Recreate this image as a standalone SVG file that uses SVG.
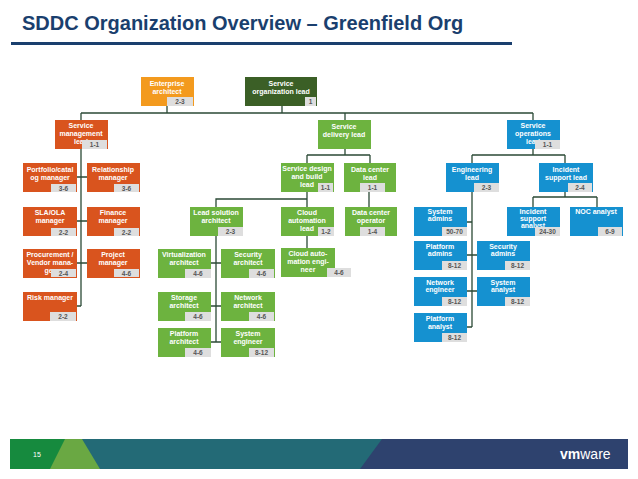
<svg xmlns="http://www.w3.org/2000/svg" width="638" height="479" viewBox="0 0 638 479">
<style>
text{font-family:"Liberation Sans",Arial,sans-serif}
.t{fill:#fff;font-size:7px;font-weight:bold;text-anchor:middle}
.b{fill:#dedede}
.bt{fill:#555;font-size:6.5px;font-weight:bold;text-anchor:middle}
.o{fill:#d9541e}.g{fill:#6db33f}.u{fill:#1591d0}
.c{stroke:#2b4a36;stroke-width:1.3;fill:none}
</style>
<rect width="638" height="479" fill="#fff"/>
<text x="22" y="30" font-size="20" font-weight="bold" fill="#1a3f6e">SDDC Organization Overview  – Greenfield Org</text>
<rect x="11" y="42" width="501" height="3" fill="#1a3f6e"/>
<g id="footer">
<rect x="10" y="439" width="618" height="30" fill="#236a76"/>
<polygon points="10,439 80,439 50,469 10,469" fill="#168a3e"/>
<polygon points="65,439 82,439 100,469 50,469" fill="#6aa843"/>
<polygon points="382,439 628,439 628,469 360,469" fill="#2e426e"/>
<text x="33" y="457" font-size="7" fill="#fff">15</text>
<text x="560" y="459" font-size="14" fill="#fff"><tspan font-weight="bold">vm</tspan>ware</text>
</g>
<g id="connectors" class="c">
<path d="M81,113H533M167,106V113M282,106V113M81,113V120M345,113V120M533,113V120"/>
<path d="M81,149V306M77,177H87M77,221H87M77,263H87M77,306H81"/>
<path d="M345,149V155M307,155H370M307,155V163M370,155V163M307,192V207M369,192V207M307,236V248M307,199H216V207"/>
<path d="M216,236V342M211,263H221M211,306H221M211,342H221"/>
<path d="M533,149V155M472,155H565M472,155V163M565,155V163M565,192V197M533,197H597M533,197V207M597,197V207"/>
<path d="M472,192V327M467,222H472M467,255H477M467,291H477M467,327H472"/>
</g>
<g id="enterprise"><rect x="141" y="77" width="53" height="29" fill="#f39a1e"/><text class="t" x="167" y="86">Enterprise</text><text class="t" x="167" y="94">architect</text><rect class="b" x="167" y="97" width="26" height="9"/><text class="bt" x="180" y="104">2-3</text></g>
<g id="orglead"><rect x="245" y="77" width="72" height="29" fill="#3b5f26"/><text class="t" x="281" y="86">Service</text><text class="t" x="281" y="94">organization lead</text><rect class="b" x="305" y="97" width="11" height="9"/><text class="bt" x="310.5" y="104">1</text></g>
<g id="smlead"><rect class="o" x="55" y="120" width="53" height="29"/><text class="t" x="81" y="128">Service</text><text class="t" x="81" y="136">management</text><text class="t" x="81" y="144">lead</text><rect class="b" x="82" y="140" width="25" height="9"/><text class="bt" x="94.5" y="147">1-1</text></g>
<g id="portfolio"><rect class="o" x="23" y="163" width="54" height="29"/><text class="t" x="50" y="172">Portfolio/catal</text><text class="t" x="50" y="180">og manager</text><rect class="b" x="51" y="184" width="25" height="8"/><text class="bt" x="63.5" y="190.5">3-6</text></g>
<g id="relationship"><rect class="o" x="87" y="163" width="53" height="29"/><text class="t" x="113" y="172">Relationship</text><text class="t" x="113" y="180">manager</text><rect class="b" x="114" y="184" width="25" height="8"/><text class="bt" x="126.5" y="190.5">3-6</text></g>
<g id="sla"><rect class="o" x="23" y="207" width="54" height="29"/><text class="t" x="50" y="215">SLA/OLA</text><text class="t" x="50" y="223">manager</text><rect class="b" x="51" y="228" width="25" height="8"/><text class="bt" x="63.5" y="234.5">2-2</text></g>
<g id="finance"><rect class="o" x="87" y="207" width="53" height="29"/><text class="t" x="113" y="215">Finance</text><text class="t" x="113" y="223">manager</text><rect class="b" x="114" y="228" width="25" height="8"/><text class="bt" x="126.5" y="234.5">2-2</text></g>
<g id="procurement"><rect class="o" x="23" y="249" width="54" height="29"/><text class="t" x="50" y="257">Procurement /</text><text class="t" x="50" y="265">Vendor mana-</text><text class="t" x="50" y="273">ger</text><rect class="b" x="51" y="269" width="25" height="8"/><text class="bt" x="63.5" y="275.5">2-4</text></g>
<g id="project"><rect class="o" x="87" y="249" width="53" height="29"/><text class="t" x="113" y="257">Project</text><text class="t" x="113" y="265">manager</text><rect class="b" x="114" y="269" width="25" height="8"/><text class="bt" x="126.5" y="275.5">4-6</text></g>
<g id="risk"><rect class="o" x="23" y="292" width="54" height="29"/><text class="t" x="50" y="300">Risk manager</text><rect class="b" x="50" y="312" width="26" height="9"/><text class="bt" x="63" y="319">2-2</text></g>
<g id="delivery"><rect class="g" x="318" y="120" width="53" height="29"/><text class="t" x="344" y="129">Service</text><text class="t" x="344" y="137">delivery lead</text></g>
<g id="design"><rect class="g" x="281" y="163" width="53" height="29"/><text class="t" x="307" y="171">Service design</text><text class="t" x="307" y="179">and build</text><text class="t" x="307" y="187">lead</text><rect class="b" x="318" y="183" width="15" height="9"/><text class="bt" x="325.5" y="190">1-1</text></g>
<g id="dclead"><rect class="g" x="344" y="163" width="52" height="29"/><text class="t" x="370" y="172">Data center</text><text class="t" x="370" y="180">lead</text><rect class="b" x="360" y="183" width="25" height="9"/><text class="bt" x="372.5" y="190">1-1</text></g>
<g id="calead"><rect class="g" x="281" y="207" width="53" height="29"/><text class="t" x="307" y="215">Cloud</text><text class="t" x="307" y="223">automation</text><text class="t" x="307" y="231">lead</text><rect class="b" x="318" y="227" width="16" height="9"/><text class="bt" x="326" y="234">1-2</text></g>
<g id="dcop"><rect class="g" x="345" y="207" width="52" height="29"/><text class="t" x="371" y="215">Data center</text><text class="t" x="371" y="223">operator</text><rect class="b" x="360" y="227" width="25" height="9"/><text class="bt" x="372.5" y="234">1-4</text></g>
<g id="caeng"><rect class="g" x="281" y="248" width="54" height="29"/><text class="t" x="308" y="256">Cloud auto-</text><text class="t" x="308" y="264">mation engi-</text><text class="t" x="308" y="272">neer</text><rect class="b" x="327" y="268" width="24" height="9"/><text class="bt" x="339" y="275">4-6</text></g>
<g id="lsa"><rect class="g" x="190" y="207" width="53" height="29"/><text class="t" x="216" y="215">Lead solution</text><text class="t" x="216" y="223">architect</text><rect class="b" x="218" y="227" width="25" height="9"/><text class="bt" x="230.5" y="234">2-3</text></g>
<g id="virt"><rect class="g" x="158" y="249" width="53" height="29"/><text class="t" x="184" y="257">Virtualization</text><text class="t" x="184" y="265">architect</text><rect class="b" x="185" y="269" width="26" height="9"/><text class="bt" x="198" y="276">4-6</text></g>
<g id="secarch"><rect class="g" x="221" y="249" width="54" height="29"/><text class="t" x="248" y="257">Security</text><text class="t" x="248" y="265">architect</text><rect class="b" x="249" y="269" width="25" height="9"/><text class="bt" x="261.5" y="276">4-6</text></g>
<g id="storage"><rect class="g" x="158" y="292" width="53" height="29"/><text class="t" x="184" y="300">Storage</text><text class="t" x="184" y="308">architect</text><rect class="b" x="185" y="312" width="26" height="9"/><text class="bt" x="198" y="319">4-6</text></g>
<g id="netarch"><rect class="g" x="221" y="292" width="54" height="29"/><text class="t" x="248" y="300">Network</text><text class="t" x="248" y="308">architect</text><rect class="b" x="249" y="312" width="25" height="9"/><text class="bt" x="261.5" y="319">4-6</text></g>
<g id="platarch"><rect class="g" x="158" y="328" width="53" height="29"/><text class="t" x="184" y="336">Platform</text><text class="t" x="184" y="344">architect</text><rect class="b" x="185" y="348" width="26" height="9"/><text class="bt" x="198" y="355">4-6</text></g>
<g id="syseng"><rect class="g" x="221" y="328" width="54" height="29"/><text class="t" x="248" y="336">System</text><text class="t" x="248" y="344">engineer</text><rect class="b" x="249" y="348" width="25" height="9"/><text class="bt" x="261.5" y="355">8-12</text></g>
<g id="opslead"><rect class="u" x="507" y="120" width="53" height="29"/><text class="t" x="533" y="128">Service</text><text class="t" x="533" y="136">operations</text><text class="t" x="533" y="144">lead</text><rect class="b" x="535" y="140" width="25" height="9"/><text class="bt" x="547.5" y="147">1-1</text></g>
<g id="englead"><rect class="u" x="446" y="163" width="53" height="29"/><text class="t" x="472" y="172">Engineering</text><text class="t" x="472" y="180">lead</text><rect class="b" x="474" y="183" width="25" height="9"/><text class="bt" x="486.5" y="190">2-3</text></g>
<g id="inclead"><rect class="u" x="539" y="163" width="54" height="29"/><text class="t" x="566" y="172">Incident</text><text class="t" x="566" y="180">support lead</text><rect class="b" x="568" y="183" width="24" height="9"/><text class="bt" x="580" y="190">2-4</text></g>
<g id="incanalyst"><rect class="u" x="507" y="207" width="53" height="29"/><text class="t" x="533" y="214">Incident</text><text class="t" x="533" y="221">support</text><text class="t" x="533" y="228">analyst</text><rect class="b" x="535" y="227" width="25" height="9"/><text class="bt" x="547.5" y="234">24-30</text></g>
<g id="noc"><rect class="u" x="570" y="207" width="53" height="29"/><text class="t" x="596" y="214">NOC analyst</text><rect class="b" x="598" y="227" width="24" height="9"/><text class="bt" x="610" y="234">6-9</text></g>
<g id="sysadmins"><rect class="u" x="414" y="207" width="53" height="29"/><text class="t" x="440" y="214">System</text><text class="t" x="440" y="221">admins</text><rect class="b" x="442" y="227" width="25" height="9"/><text class="bt" x="454.5" y="234">50-70</text></g>
<g id="platadmins"><rect class="u" x="414" y="241" width="53" height="29"/><text class="t" x="440" y="249">Platform</text><text class="t" x="440" y="256">admins</text><rect class="b" x="442" y="261" width="25" height="9"/><text class="bt" x="454.5" y="268">8-12</text></g>
<g id="secadmins"><rect class="u" x="477" y="241" width="53" height="29"/><text class="t" x="503" y="249">Security</text><text class="t" x="503" y="256">admins</text><rect class="b" x="505" y="261" width="25" height="9"/><text class="bt" x="517.5" y="268">8-12</text></g>
<g id="neteng"><rect class="u" x="414" y="277" width="53" height="29"/><text class="t" x="440" y="285">Network</text><text class="t" x="440" y="292">engineer</text><rect class="b" x="442" y="297" width="25" height="9"/><text class="bt" x="454.5" y="304">8-12</text></g>
<g id="sysanalyst"><rect class="u" x="477" y="277" width="53" height="29"/><text class="t" x="503" y="285">System</text><text class="t" x="503" y="292">analyst</text><rect class="b" x="505" y="297" width="25" height="9"/><text class="bt" x="517.5" y="304">8-12</text></g>
<g id="platanalyst"><rect class="u" x="414" y="313" width="53" height="29"/><text class="t" x="440" y="321">Platform</text><text class="t" x="440" y="329">analyst</text><rect class="b" x="442" y="333" width="25" height="9"/><text class="bt" x="454.5" y="340">8-12</text></g>
</svg>
